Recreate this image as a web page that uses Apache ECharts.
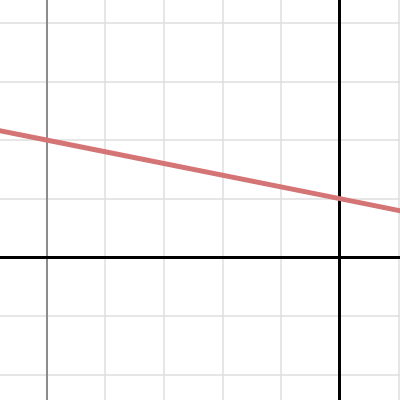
<!DOCTYPE html>
<html><head><meta charset="utf-8">
<script src="https://cdn.jsdelivr.net/npm/echarts@6/dist/echarts.min.js"></script>
<style>html,body{margin:0;padding:0;background:#fff}#c{width:400px;height:400px}</style>
</head><body><div id="c"></div>
<script>
const xRange = [-5.790, 1.028];
const yRange = [-2.432, 4.386];
const xGrid = [-5, -4, -3, -2, -1, 0, 1];
const yGrid = [-2, -1, 0, 1, 2, 3, 4];
const majorX = [-5];
const lineX = [-6, -5, 0, 1.5];
const lineY = [2.2, 2, 1, 0.7];

const chart = echarts.init(document.getElementById('c'));
const gridLines = [];
xGrid.forEach(v => {
  let style = {color: '#dedede', width: 1.5, type: 'solid'};
  if (majorX.includes(v)) style = {color: '#8c8c8c', width: 2, type: 'solid'};
  if (v === 0) style = {color: '#000', width: 3, type: 'solid'};
  gridLines.push({xAxis: v, lineStyle: style});
});
yGrid.forEach(v => {
  let style = {color: '#dedede', width: 1.5, type: 'solid'};
  if (v === 0) style = {color: '#000', width: 3, type: 'solid'};
  gridLines.push({yAxis: v, lineStyle: style});
});
// draw axes last so they are on top
gridLines.sort((a, b) => (a.lineStyle.width - b.lineStyle.width));

chart.setOption({
  animation: false,
  grid: {left: 0, right: 0, top: 0, bottom: 0},
  xAxis: {type: 'value', min: xRange[0], max: xRange[1], show: false, splitLine: {show: false}},
  yAxis: {type: 'value', min: yRange[0], max: yRange[1], show: false, splitLine: {show: false}},
  series: [
    {
      type: 'line', data: [], silent: true,
      markLine: {symbol: ['none', 'none'], silent: true, label: {show: false}, animation: false, data: gridLines}
    },
    {
      type: 'line', data: lineX.map((x, i) => [x, lineY[i]]), showSymbol: false, symbol: 'none',
      lineStyle: {color: '#d57474', width: 5}, clip: true, z: 5
    }
  ]
});
</script></body></html>
